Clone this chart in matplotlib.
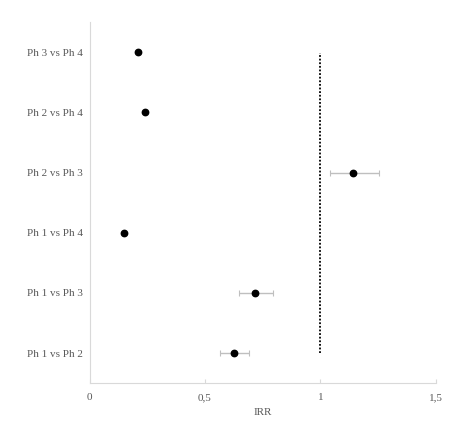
import numpy as np
import matplotlib.pyplot as plt

plt.rcParams['font.family'] = ['Liberation Serif', 'DejaVu Serif']

comparisons = ['Ph 1 vs Ph 2', 'Ph 1 vs Ph 3', 'Ph 1 vs Ph 4',
               'Ph 2 vs Ph 3', 'Ph 2 vs Ph 4', 'Ph 3 vs Ph 4']
irr = [0.627, 0.717, 0.149, 1.143, 0.240, 0.209]
ci_low = [0.565, 0.646, 0.145, 1.042, 0.235, 0.204]
ci_high = [0.693, 0.797, 0.153, 1.254, 0.245, 0.214]
ref_x = [1, 1]
ref_y = [0.5, 5.48]

ypos = np.arange(len(comparisons)) + 0.5
irr = np.array(irr)
err = [irr - np.array(ci_low), np.array(ci_high) - irr]

fig = plt.figure(figsize=(4.74, 4.38), dpi=100)
ax = fig.add_axes([89.5 / 474, 1 - 383.3 / 438, (435.7 - 89.5) / 474, (383.3 - 22) / 438])

# reference line at IRR = 1
ax.plot(ref_x, ref_y, color='black', linestyle=(0, (1, 1)), linewidth=1.3)
ax.errorbar(irr, ypos, xerr=err, fmt='o', color='black', ecolor='#bfbfbf',
            elinewidth=1, capsize=2, capthick=0.8, markersize=4.6, zorder=3)

ax.set_xlim(0, 1.5)
ax.set_ylim(0, 6)
ax.set_xticks([0, 0.5, 1, 1.5])
ax.set_xticklabels(['0', '0,5', '1', '1,5'])
ax.set_yticks(ypos)
ax.set_yticklabels(comparisons)
ax.set_xlabel('IRR', color='#595959', fontsize=8, labelpad=4.5)

for s in ['top', 'right']:
    ax.spines[s].set_visible(False)
for s in ['left', 'bottom']:
    ax.spines[s].set_color('#d9d9d9')
    ax.spines[s].set_linewidth(0.8)
ax.tick_params(axis='x', colors='#595959', labelsize=8, length=3, direction='in',
               color='#d9d9d9', pad=7)
ax.tick_params(axis='y', colors='#595959', labelsize=8, length=0, pad=5)

fig.savefig('out.png', dpi=100)
